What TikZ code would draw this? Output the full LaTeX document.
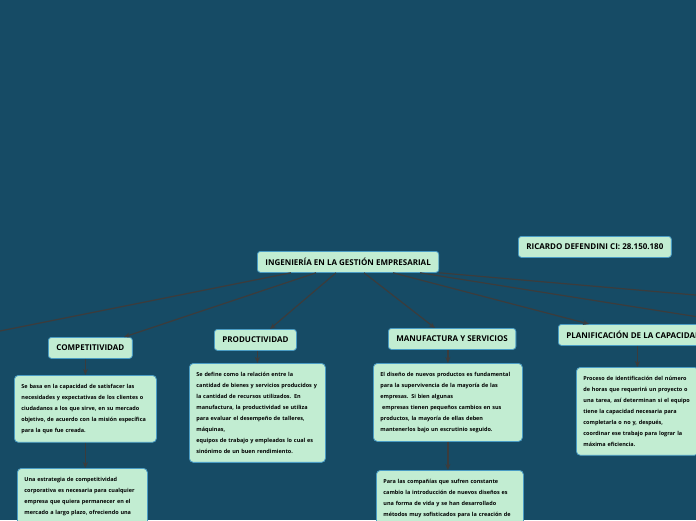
\documentclass[tikz,border=0pt]{standalone}
\usepackage{fontspec}
\setmainfont{Open Sans}
\usetikzlibrary{arrows.meta}

\definecolor{bgblue}{HTML}{164B65}
\definecolor{topicfill}{HTML}{C2EDD2}
\definecolor{topicline}{HTML}{4A9CC4}
\definecolor{linkgray}{HTML}{3C3C3C}

\tikzset{
    topic/.style={draw=topicline, fill=topicfill, rounded corners=3pt, line width=0.8pt,
        anchor=north west, inner xsep=8pt, minimum height=21pt, text=black,
        font=\fontsize{8}{9}\selectfont\bfseries},
    note/.style={draw=topicline, fill=topicfill, rounded corners=4pt, line width=0.8pt,
        anchor=north west, inner xsep=7pt, inner ysep=8.5pt, align=left, text=black,
        font=\fontsize{5.5}{11.1}\selectfont\bfseries},
    link/.style={draw=linkgray, line width=1.2pt, -{Stealth[length=6pt,width=5pt]}}
}

\begin{document}
\begin{tikzpicture}[x=1pt, y=-1pt]
    \fill[bgblue] (0,0) rectangle (696,520);
    \useasboundingbox (0,0) rectangle (696,520);

    % Nodes
    \node[topic] (title) at (257,251) {INGENIERÍA EN LA GESTIÓN EMPRESARIAL};
    \node[topic] (author) at (518,236) {RICARDO DEFENDINI CI: 28.150.180};

    \node[topic] (comp) at (48,337) {COMPETITIVIDAD};
    \node[topic] (prod) at (214,329) {PRODUCTIVIDAD};
    \node[topic] (manu) at (388,328) {MANUFACTURA Y SERVICIOS};
    \node[topic] (plan) at (558,324) {PLANIFICACIÓN DE LA CAPACIDAD};

    \node[note, text width=128pt] (comptext) at (14,375) {Se basa en la capacidad de satisfacer las\\
        necesidades y expectativas de los clientes o\\
        ciudadanos a los que sirve, en su mercado\\
        objetivo, de acuerdo con la misión específica\\
        para la que fue creada.};
    \node[note, text width=116pt, text depth=50pt] (comptext2) at (17,468) {Una estrategia de competitividad\\
        corporativa es necesaria para cualquier\\
        empresa que quiera permanecer en el\\
        mercado a largo plazo, ofreciendo una};
    \node[note, text width=122pt] (prodtext) at (189,363) {Se define como la relación entre la\\
        cantidad de bienes y servicios producidos y\\
        la cantidad de recursos utilizados. En\\
        manufactura, la productividad se utiliza\\
        para evaluar el desempeño de talleres,\\
        máquinas,\\
        equipos de trabajo y empleados lo cual es\\
        sinónimo de un buen rendimiento.};
    \node[note, text width=135pt] (manutext) at (373,363) {El diseño de nuevos productos es fundamental\\
        para la supervivencia de la mayoría de las\\
        empresas. Si bien algunas\\
        \ empresas tienen pequeños cambios en sus\\
        productos, la mayoría de ellas deben\\
        mantenerlos bajo un escrutinio seguido.};
    \node[note, text width=133pt, text depth=50pt] (manutext2) at (376,470) {Para las compañías que sufren constante\\
        cambio la introducción de nuevos diseños es\\
        una forma de vida y se han desarrollado\\
        métodos muy sofisticados para la creación de};
    \node[note, text width=108pt] (plantext) at (576,367) {Proceso de identificación del número\\
        de horas que requerirá un proyecto o\\
        una tarea, así determinan si el equipo\\
        tiene la capacidad necesaria para\\
        completarla o no y, después,\\
        coordinar ese trabajo para lograr la\\
        máxima eficiencia.};

    % topics outside the page
    \coordinate (leftout) at (-30,337);
    \coordinate (rightoutA) at (730,322);
    \coordinate (rightoutB) at (730,298);

    % Edges
    \draw[link] ([xshift=34pt]title.south west) -- (leftout);
    \draw[link] ([xshift=59pt]title.south west) -- ([xshift=76pt]comp.north west);
    \draw[link] ([xshift=79pt]title.south west) -- ([xshift=56pt]prod.north west);
    \draw[link] ([xshift=107pt]title.south west) -- ([xshift=47pt]manu.north west);
    \draw[link] ([xshift=136pt]title.south west) -- ([xshift=31pt]plan.north west);
    \draw[link] ([xshift=163pt]title.south west) -- (rightoutA);
    \draw[link] (title.south east) -- (rightoutB);

    \draw[link] (comp.south -| comptext.north) -- (comptext.north);
    \draw[link] (comptext.south) -- (comptext.south |- comptext2.north);
    \draw[link] (prod.south -| prodtext.north) -- (prodtext.north);
    \draw[link] (manu.south -| manutext.north) -- (manutext.north);
    \draw[link] (manutext.south) -- (manutext.south |- manutext2.north);
    \draw[link] (plan.south -| plantext.north) -- (plantext.north);
\end{tikzpicture}
\end{document}
